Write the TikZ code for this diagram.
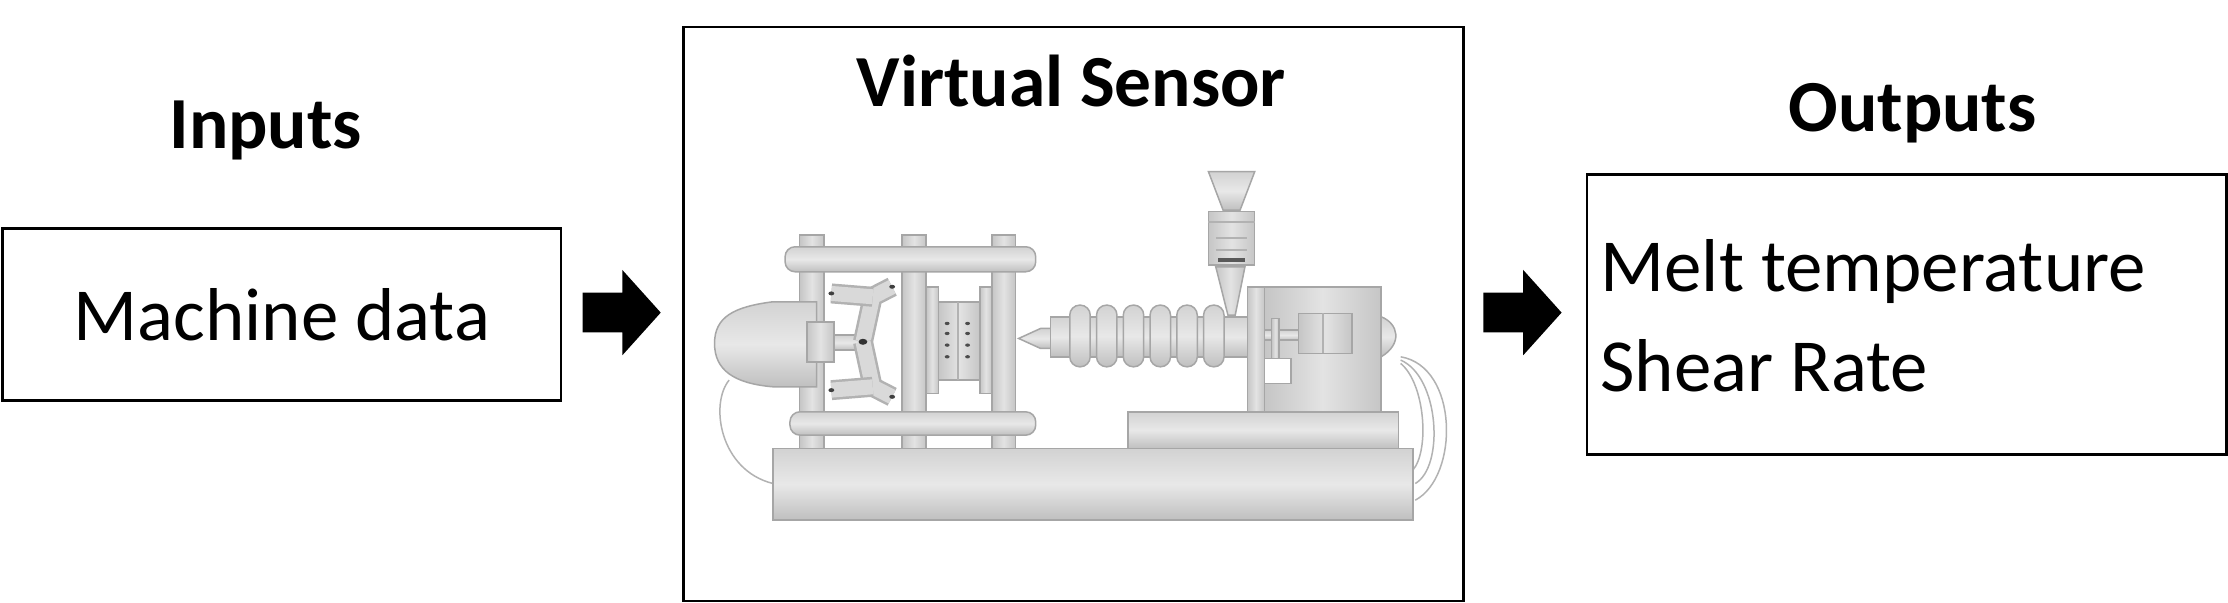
\documentclass[tikz,border=0pt]{standalone}
\usepackage{fontspec}
\setmainfont{Carlito}
\begin{document}
\begin{tikzpicture}[x=0.1mm,y=-0.1mm,
  box/.style={draw=black,line width=0.5pt,fill=white},
  fat/.style={fill=black},
  lbl/.style={font=\fontsize{14.7}{17}\selectfont\bfseries},
  txt/.style={font=\fontsize{15}{20}\selectfont},
  mpart/.style={draw=gray!70,line width=0.3pt,top color=gray!35,bottom color=gray!50,middle color=gray!18},
  vpart/.style={draw=gray!70,line width=0.3pt,left color=gray!45,right color=gray!45,middle color=gray!22}]
\useasboundingbox (0,0) rectangle (1568,424);
\node[box,minimum width=393*0.1mm,minimum height=121*0.1mm,anchor=north west,inner sep=0] (inbox) at (1,160) {};
\node[txt] (intext) at (inbox.center) {Machine data};
\node[lbl] (inlbl) at (187,92) {Inputs};
\node[box,minimum width=549*0.1mm,minimum height=404*0.1mm,anchor=north west,inner sep=0] (vs) at (480,18) {};
\node[lbl] (vslbl) at (754,57) {Virtual Sensor};
\node[box,minimum width=450*0.1mm,minimum height=197*0.1mm,anchor=north west,inner sep=0] (outbox) at (1116,122) {};
\node[txt,align=left,anchor=west] (outtext) at (1114,222) {Melt temperature\\Shear Rate};
\node[lbl] (outlbl) at (1346,80) {Outputs};
\coordinate (a1) at (410,220);
\coordinate (a2) at (1044,220);
\foreach \c in {a1,a2}{
  \fill[black] ([shift={(0,-14)}]\c) -- ++(28,0) -- ++(0,-16) -- ++(27,30) -- ++(-27,30) -- ++(0,-16) -- ++(-28,0) -- cycle;
}
\begin{scope}[shift={(492.6,105.6)},x=0.1mm/2.92,y=-0.1mm/4.26]
  % cables
  \draw[gray!60,line width=0.3pt] (150,1000) .. controls (40,960) and (20,760) .. (60,690);
  \draw[gray!60,line width=0.3pt] (1440,620) .. controls (1560,650) and (1560,980) .. (1470,1050);
  \draw[gray!60,line width=0.3pt] (1440,630) .. controls (1520,680) and (1530,950) .. (1470,1000);
  \draw[gray!60,line width=0.3pt] (1440,640) .. controls (1490,700) and (1500,900) .. (1465,960);
  % base
  \draw[mpart] (150,895) rectangle (1465,1110);
  \draw[mpart] (880,785) rectangle (1435,895);
  % posts
  \draw[vpart] (205,255) rectangle (255,895);
  \draw[vpart] (415,255) rectangle (465,895);
  \draw[vpart] (600,255) rectangle (648,895);
  % tie bars
  \draw[mpart,rounded corners=2pt] (175,290) rectangle (690,365);
  \draw[mpart,rounded corners=2pt] (185,785) rectangle (690,855);
  % platens and mould
  \draw[vpart] (465,410) rectangle (490,730);
  \draw[vpart] (490,455) rectangle (575,690);
  \draw[gray!60] (530,455) -- (530,690);
  \draw[vpart] (575,410) rectangle (600,730);
  \foreach \yy in {520,550,585,620}{\fill[gray!60!black] (508,\yy) circle (5); \fill[gray!60!black] (550,\yy) circle (5);}
  % clamp cylinder
  \draw[mpart] (240,455) -- (150,455) .. controls (70,470) and (30,500) .. (30,580) .. controls (30,660) and (70,700) .. (150,710) -- (240,710) -- cycle;
  \draw[vpart] (220,515) rectangle (275,635);
  \draw[mpart] (275,555) rectangle (335,600);
  % toggles
  \foreach \s in {1,-1}{
    \draw[gray!60,line width=4pt] (335,575) -- (355,575-\s*135) -- (395,575-\s*165);
    \draw[gray!30,line width=3pt] (335,575) -- (355,575-\s*135) -- (395,575-\s*165);
    \draw[gray!60,line width=4pt] (355,575-\s*135) -- (270,575-\s*145);
    \draw[gray!30,line width=3pt] (355,575-\s*135) -- (270,575-\s*145);
    \fill[gray!50!black] (395,575-\s*165) circle (6);
    \fill[gray!50!black] (270,575-\s*145) circle (6);
  }
  \fill[black!80] (335,575) circle (9);
  % nozzle and barrel
  \draw[mpart] (655,565) -- (700,535) -- (725,535) -- (725,595) -- (700,595) -- cycle;
  \draw[mpart] (720,500) rectangle (1125,620);
  \foreach \xx in {760,815,870,925,980,1035}{
    \draw[mpart,rounded corners=2pt] (\xx,465) rectangle (\xx+42,650);
  }
  % hopper
  \draw[mpart] (1045,65) -- (1140,65) -- (1110,180) -- (1075,180) -- cycle;
  \draw[vpart] (1045,185) rectangle (1140,345);
  \draw[gray!60] (1045,215) -- (1140,215) (1060,265) -- (1125,265) (1060,300) -- (1125,300);
  \fill[gray!70!black] (1065,325) rectangle (1120,335);
  \draw[vpart] (1060,350) -- (1120,350) -- (1100,495) -- (1085,495) -- cycle;
  % injection unit
  \draw[vpart] (1125,410) rectangle (1160,785);
  \draw[vpart] (1160,410) -- (1400,410) -- (1400,785) -- (1160,785) -- (1160,700) -- (1215,700) -- (1215,625) -- (1160,625) -- cycle;
  \draw[mpart] (1400,500) .. controls (1435,520) and (1445,580) .. (1400,620) -- cycle;
  \draw[mpart] (1160,540) rectangle (1230,570);
  \draw[vpart] (1175,505) rectangle (1190,625);
  \draw[vpart] (1230,490) rectangle (1340,610);
  \draw[gray!60] (1280,490) -- (1280,610);
\end{scope}
\end{tikzpicture}
\end{document}
